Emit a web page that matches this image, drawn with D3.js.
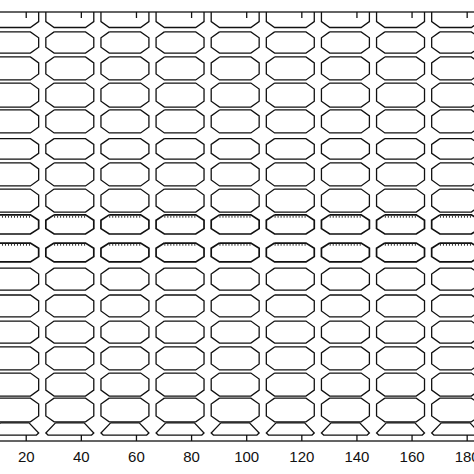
<!DOCTYPE html>
<html>
<head>
<meta charset="utf-8">
<script src="https://cdn.jsdelivr.net/npm/d3@7"></script>
<style>
  body { margin: 0; background: #fff; }
  svg { display: block; }
  text { font-family: "Liberation Sans", Arial, sans-serif; }
</style>
</head>
<body>
<svg id="chart" width="474" height="474"></svg>
<script>
// centre of each column of closed contour loops (x units)
var colCenters = [16, 36, 56, 76, 96, 116, 136, 156, 176];
// half width of one loop (x units)
var loopHalfWidth = 8.7;

// vertical extent of each row of loops, top then bottom (y units)
var rowTops    = [168.5, 158.3, 148.6, 138.5, 128.1, 117.0, 107.6, 97.5, 87.5, 76.6, 66.9, 56.5, 46.4, 36.4, 26.3, 16.6, 7.0];
var rowBottoms = [160.0, 150.1, 139.7, 129.2, 119.2, 109.1,  98.7, 88.6, 80.1, 69.3, 58.4, 48.0, 37.9, 27.5, 17.4,  7.4, 2.3];
// rows whose top edge is drawn as a doubled, comb-like contour
var denseRows = [8, 9];
// the last row is a flattened loop cut by the lower boundary
var flatRow = 16;

var xTicks = [20, 40, 60, 80, 100, 120, 140, 160, 180];
var xDomain = [0, 200];
var yDomain = [0, 166];

var svg = d3.select("#chart");

// the plotted frame is larger than the picture: left and right sides fall outside
var x = d3.scaleLinear().domain(xDomain).range([-29.4, 521.8]);
var y = d3.scaleLinear().domain(yDomain).range([441, 12]);

svg.append("clipPath").attr("id", "plotclip")
  .append("rect")
  .attr("x", x(xDomain[0])).attr("y", y(yDomain[1]))
  .attr("width", x(xDomain[1]) - x(xDomain[0]))
  .attr("height", y(yDomain[0]) - y(yDomain[1]));

var line = d3.line().x(d => x(d[0])).y(d => y(d[1]));

// octagonal loop, like a contour traced on a coarse grid
function octagon(cx, top, bot) {
  var w = loopHalfWidth, cxs = 3.0, cys = Math.min(2.3, (top - bot) * 0.28);
  return [
    [cx - w + cxs, top], [cx + w - cxs, top], [cx + w, top - cys],
    [cx + w, bot + cys], [cx + w - cxs, bot], [cx - w + cxs, bot],
    [cx - w, bot + cys], [cx - w, top - cys], [cx - w + cxs, top]
  ];
}

function flatLoop(cx, top, bot) {
  var w = loopHalfWidth;
  return [
    [cx - 5.2, top], [cx + 5.2, top], [cx + w, bot + 0.8],
    [cx + w - 0.8, bot], [cx - w + 0.8, bot], [cx - w, bot + 0.8], [cx - 5.2, top]
  ];
}

var cells = [];
rowTops.forEach((t, r) => {
  colCenters.forEach(cx => cells.push({ row: r, cx: cx, top: t, bot: rowBottoms[r] }));
});

var g = svg.append("g").attr("clip-path", "url(#plotclip)");

g.selectAll("path.loop")
  .data(cells)
  .enter()
  .append("path")
  .attr("class", "loop")
  .attr("d", d => line(d.row === flatRow ? flatLoop(d.cx, d.top, d.bot) : octagon(d.cx, d.top, d.bot)))
  .attr("fill", "none")
  .attr("stroke", "#111")
  .attr("stroke-width", d => denseRows.includes(d.row) ? 1.7 : 1.3);

// comb of short strokes just under the top edge of the dense rows
g.selectAll("line.comb")
  .data(cells.filter(d => denseRows.includes(d.row)))
  .enter()
  .append("line")
  .attr("class", "comb")
  .attr("x1", d => x(d.cx - loopHalfWidth + 3.0))
  .attr("x2", d => x(d.cx + loopHalfWidth - 3.0))
  .attr("y1", d => y(d.top) + 1.8)
  .attr("y2", d => y(d.top) + 1.8)
  .attr("stroke", "#333")
  .attr("stroke-width", 2)
  .attr("stroke-dasharray", "1 2");

// frame
svg.append("rect")
  .attr("x", x(xDomain[0])).attr("y", y(yDomain[1]))
  .attr("width", x(xDomain[1]) - x(xDomain[0]))
  .attr("height", y(yDomain[0]) - y(yDomain[1]))
  .attr("fill", "none")
  .attr("stroke", "#111")
  .attr("stroke-width", 1.3);

var xAxis = svg.append("g")
  .attr("transform", `translate(0,${y(yDomain[0])})`)
  .call(d3.axisBottom(x).tickValues(xTicks).tickSizeInner(-6).tickSizeOuter(0).tickPadding(10));

var xAxisTop = svg.append("g")
  .attr("transform", `translate(0,${y(yDomain[1])})`)
  .call(d3.axisTop(x).tickValues(xTicks).tickSizeInner(-6).tickSizeOuter(0).tickFormat(""));

svg.selectAll(".domain").remove();
svg.selectAll(".tick line").attr("stroke", "#111").attr("stroke-width", 1.3);
xAxis.selectAll("text")
  .attr("font-size", 15)
  .attr("font-family", "Liberation Sans, Arial, sans-serif")
  .attr("fill", "#111");
</script>
</body>
</html>
